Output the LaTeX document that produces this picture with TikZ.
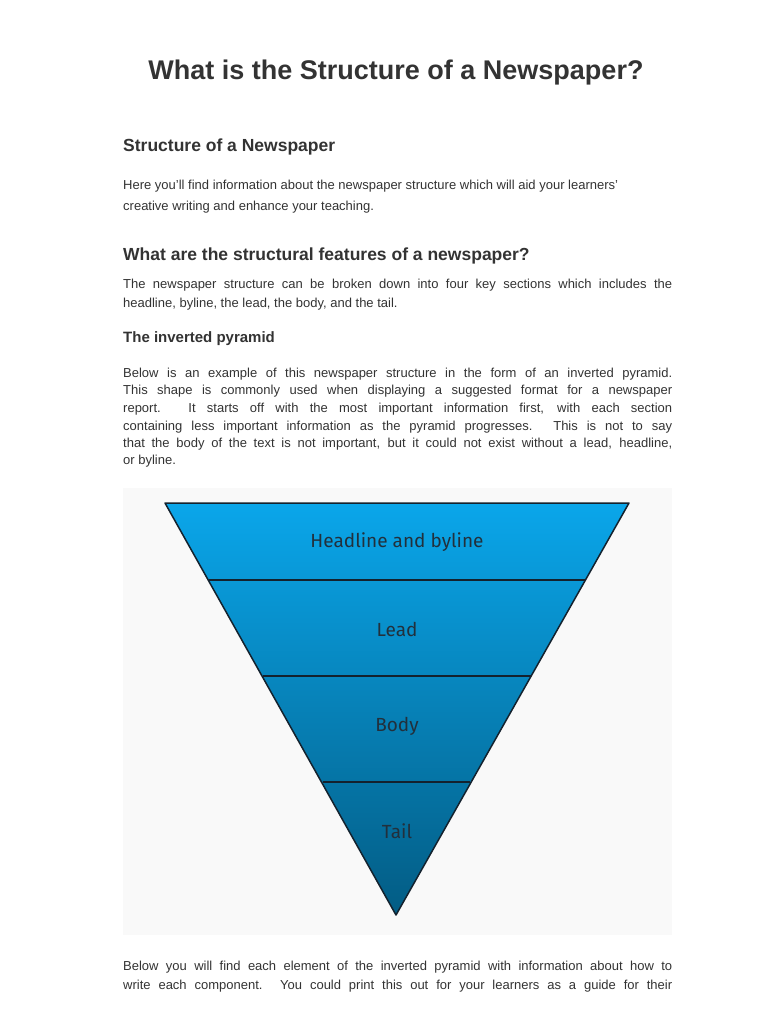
\documentclass[tikz,border=0pt]{standalone}
\usepackage{fontspec}
\setmainfont{Liberation Sans}
\newfontfamily\pyrfont{Fira Sans}
\definecolor{txt}{HTML}{333333}
\definecolor{pyrtop}{HTML}{0AA6EA}
\definecolor{pyrbot}{HTML}{035C84}
\definecolor{pyrline}{HTML}{14222E}
\definecolor{pyrtext}{HTML}{22303C}
\begin{document}
\begin{tikzpicture}[x=1pt,y=-1pt,
  body/.style={anchor=base west,inner sep=0pt,text=txt,font=\fontsize{13}{15}\selectfont},
  head/.style={anchor=base west,inner sep=0pt,text=txt,font=\bfseries\fontsize{17.5}{20}\selectfont},
  lab/.style={text=pyrtext,font=\pyrfont\fontsize{19}{22}\selectfont}]
\useasboundingbox[fill=white] (0,0) rectangle (768,1024);
\node[anchor=base,inner sep=0pt,text=txt,font=\bfseries\fontsize{27}{30}\selectfont] (title) at (396,80) {What is the Structure of a Newspaper?};
\node[head] (h1) at (123,152) {Structure of a Newspaper};
\node[body] (p1a) at (123,190) {Here you'll find information about the newspaper structure which will aid your learners'};
\node[body] (p1b) at (123,211) {creative writing and enhance your teaching.};
\node[head] (h2) at (123,260) {What are the structural features of a newspaper?};
\node[body] (p2a) at (123,288) {\makebox[549pt][s]{The newspaper structure can be broken down into four key sections which includes the}};
\node[body] (p2b) at (123,307) {headline, byline, the lead, the body, and the tail.};
\node[head,font=\bfseries\fontsize{15}{18}\selectfont] (h3) at (123,342) {The inverted pyramid};
\node[body] (l1) at (123,377) {\makebox[549pt][s]{Below is an example of this newspaper structure in the form of an inverted pyramid.}};
\node[body] (l2) at (123,394) {\makebox[549pt][s]{This shape is commonly used when displaying a suggested format for a newspaper}};
\node[body] (l3) at (123,412) {\makebox[549pt][s]{report. It starts off with the most important information first, with each section}};
\node[body] (l4) at (123,430) {\makebox[549pt][s]{containing less important information as the pyramid progresses. This is not to say}};
\node[body] (l5) at (123,447) {\makebox[549pt][s]{that the body of the text is not important, but it could not exist without a lead, headline,}};
\node[body] (l6) at (123,464) {or byline.};
\fill[gray!5] (123,488) rectangle (672,935);
\shade[top color=pyrtop,bottom color=pyrbot] (165,503) -- (629,503) -- (396,915) -- cycle;
\draw[pyrline,line width=1.5pt,line join=round] (165,503) -- (629,503) -- (396,915) -- cycle;
\draw[pyrline,line width=2pt] (209,580) -- (585,580);
\draw[pyrline,line width=2pt] (263,676) -- (531,676);
\draw[pyrline,line width=2pt] (323,782) -- (470,782);
\node[lab] (hb) at (397,542) {Headline and byline};
\node[lab] (lead) at (397,629) {Lead};
\node[lab] (bod) at (397,726) {Body};
\node[lab] (tail) at (397,831) {Tail};
\node[body] (b1) at (123,970) {\makebox[549pt][s]{Below you will find each element of the inverted pyramid with information about how to}};
\node[body] (b2) at (123,989) {\makebox[549pt][s]{write each component. You could print this out for your learners as a guide for their}};
\end{tikzpicture}
\end{document}
